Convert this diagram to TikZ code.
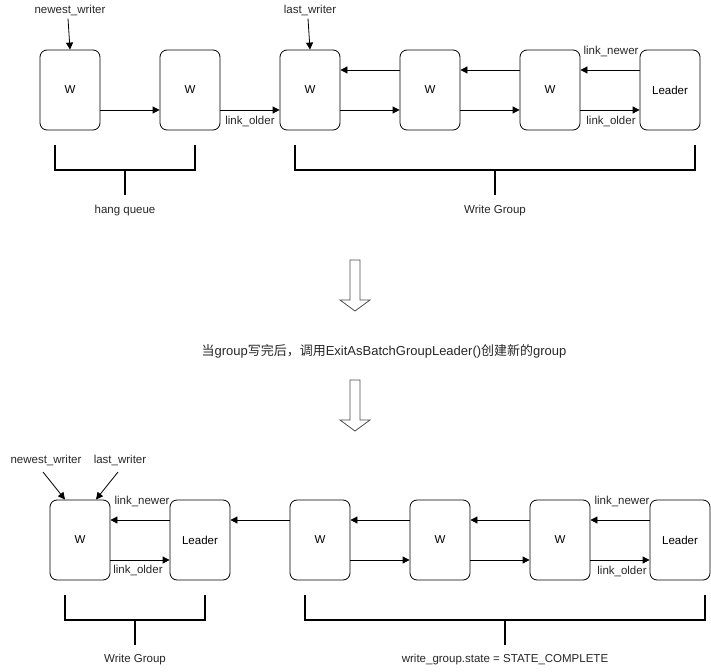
\documentclass[tikz,border=0pt]{standalone}
\usepackage{fontspec}
\setmainfont{Liberation Sans}
\newfontfamily\cjk{Noto Sans CJK SC}
\usetikzlibrary{arrows.meta}
\begin{document}
\begin{tikzpicture}[x=1pt,y=-1pt,
  box/.style={draw,rounded corners=7pt,minimum width=60pt,minimum height=80pt,inner sep=0pt,font=\fontsize{11.5}{13}\selectfont,line width=0.8pt},
  lbl/.style={font=\fontsize{11.5}{13}\selectfont,inner sep=1pt,text=black!85},
  ar/.style={-{Triangle[length=7pt,width=7pt]},line width=0.8pt},
  br/.style={line width=1.6pt},
  hollow/.style={draw=black!70,line width=0.8pt,line join=miter}]
\useasboundingbox (0,0) rectangle (711,671);
% top row
\node[box] (a1) at (70,90) {W};
\node[box] (a2) at (190,90) {W};
\node[box] (a3) at (310,90) {W};
\node[box] (a4) at (430,90) {W};
\node[box] (a5) at (550,90) {W};
\node[box] (a6) at (670,90) {Leader};
\draw[ar] (a1.east|-0,110) -- (a2.west|-0,110);
\draw[ar] (a2.east|-0,110) -- (a3.west|-0,110);
\foreach \l/\r in {a3/a4,a4/a5,a5/a6}{
  \draw[ar] (\r.west|-0,70) -- (\l.east|-0,70);
  \draw[ar] (\l.east|-0,110) -- (\r.west|-0,110);}
\node[lbl] (t1) at (250,121) {link\_older};
\node[lbl] (t2) at (611,51) {link\_newer};
\node[lbl] (t3) at (611,121) {link\_older};
\node[lbl] (p1) at (70,10) {newest\_writer};
\node[lbl] (p2) at (310,10) {last\_writer};
\draw[ar] (p1.south) ++(-2,2) coordinate (p1s) -- (a1.north);
\draw[ar] (p2.south) ++(-2,2) coordinate (p2s) -- (a3.north);
\draw[br] (55,145) -- (55,170) -- (195,170) -- (195,145) (125,170) -- (125,195);
\draw[br] (295,145) -- (295,170) -- (695,170) -- (695,145) (495,170) -- (495,195);
\node[lbl] (hq) at (125,211) {hang queue};
\node[lbl] (wg1) at (495,211) {Write Group};
% hollow arrows
\foreach \dy in {0,120}{
  \draw[hollow] (350,260+\dy) -- (360,260+\dy) -- (360,300+\dy) -- (370,300+\dy) -- (355,311+\dy) -- (340,300+\dy) -- (350,300+\dy) -- cycle;}
\node[lbl,font=\fontsize{13}{15}\selectfont] (mid) at (384,351) {{\cjk 当}group{\cjk 写完后，调用}ExitAsBatchGroupLeader(){\cjk 创建新的}group};
% bottom row
\node[box] (b1) at (80,540) {W};
\node[box] (b2) at (200,540) {Leader};
\node[box] (b3) at (320,540) {W};
\node[box] (b4) at (440,540) {W};
\node[box] (b5) at (560,540) {W};
\node[box] (b6) at (680,540) {Leader};
\draw[ar] (b2.west|-0,520) -- (b1.east|-0,520);
\draw[ar] (b1.east|-0,560) -- (b2.west|-0,560);
\draw[ar] (b3.west|-0,520) -- (b2.east|-0,520);
\foreach \l/\r in {b3/b4,b4/b5,b5/b6}{
  \draw[ar] (\r.west|-0,520) -- (\l.east|-0,520);
  \draw[ar] (\l.east|-0,560) -- (\r.west|-0,560);}
\node[lbl] (u1) at (142,501) {link\_newer};
\node[lbl] (u2) at (138,570) {link\_older};
\node[lbl] (u3) at (622,501) {link\_newer};
\node[lbl] (u4) at (622,571) {link\_older};
\node[lbl] (q1) at (46,460) {newest\_writer};
\node[lbl] (q2) at (120,460) {last\_writer};
\draw[ar] (43,472) coordinate (q1s) -- (65,499.5);
\draw[ar] (118,472) coordinate (q2s) -- (96,499.5);
\draw[br] (65,595) -- (65,620) -- (205,620) -- (205,595) (135,620) -- (135,645);
\draw[br] (305,595) -- (305,620) -- (705,620) -- (705,595) (505,620) -- (505,645);
\node[lbl] (wg2) at (135,660) {Write Group};
\node[lbl] (st) at (505,660) {write\_group.state = STATE\_COMPLETE};
\end{tikzpicture}
\end{document}
